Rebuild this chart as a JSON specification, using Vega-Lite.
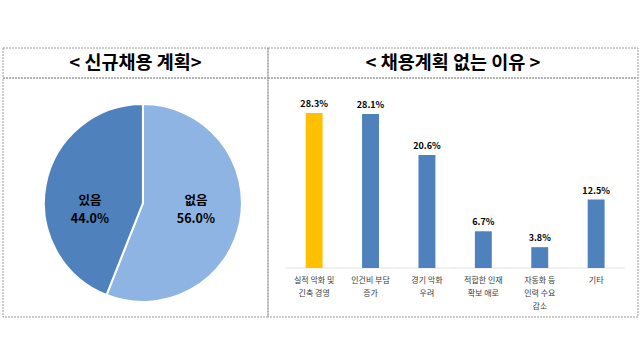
{
  "$schema": "https://vega.github.io/schema/vega-lite/v6.json",
  "padding": {"left": 2, "top": 47, "right": 3, "bottom": 44},
  "autosize": {"type": "pad"},
  "background": "white",
  "spacing": 0,
  "columns": 2,
  "bounds": "flush",
  "config": {
    "view": {"stroke": null},
    "font": "Noto Sans CJK KR",
    "concat": {"spacing": 0}
  },
  "concat": [
    {
      "width": 265, "height": 30,
      "data": {"values": [{"t": "< 신규채용 계획>"}]},
      "layer": [
        {"mark": {"type": "rect", "fill": null, "stroke": "#9a9a9a", "strokeWidth": 1, "strokeDash": [2, 1]}, "encoding": {}},
        {"mark": {"type": "text", "fontSize": 18.5, "fontWeight": "bold", "color": "black"}, "encoding": {"text": {"field": "t"}}}
      ]
    },
    {
      "width": 370, "height": 30,
      "data": {"values": [{"t": "< 채용계획 없는 이유 >"}]},
      "layer": [
        {"mark": {"type": "rect", "fill": null, "stroke": "#9a9a9a", "strokeWidth": 1, "strokeDash": [2, 1]}, "encoding": {}},
        {"mark": {"type": "text", "fontSize": 18.5, "fontWeight": "bold", "color": "black"}, "encoding": {"text": {"field": "t"}}}
      ]
    },
    {
      "width": 265, "height": 239,
      "data": {"values": [
        {"name": "없음", "value": 56.0, "o": 1},
        {"name": "있음", "value": 44.0, "o": 2}
      ]},
      "transform": [{"calculate": "datum.name + '\\n' + format(datum.value, '.1f') + '%'", "as": "lab"}],
      "layer": [
        {"data": {"values": [{"f": 1}]}, "mark": {"type": "rect", "fill": null, "stroke": "#9a9a9a", "strokeWidth": 1, "strokeDash": [2, 1]}, "encoding": {}},
        {
          "mark": {"type": "arc", "outerRadius": 99, "stroke": "white", "strokeWidth": 2},
          "encoding": {
            "x": {"datum": 0.528, "type": "quantitative", "scale": {"domain": [0, 1]}, "axis": null},
            "y": {"datum": 0.477, "type": "quantitative", "scale": {"domain": [0, 1]}, "axis": null},
            "theta": {"field": "value", "type": "quantitative", "stack": true},
            "order": {"field": "o", "type": "quantitative"},
            "color": {"field": "name", "type": "nominal", "scale": {"domain": ["없음", "있음"], "range": ["#8DB4E2", "#4F81BD"]}, "legend": null}
          }
        },
        {
          "mark": {"type": "text", "radius": 53, "thetaOffset": -0.19, "dy": -2, "fontSize": 12.5, "fontWeight": "bold", "lineBreak": "\n", "lineHeight": 18, "color": "black"},
          "encoding": {
            "x": {"datum": 0.528, "type": "quantitative", "axis": null},
            "y": {"datum": 0.477, "type": "quantitative", "axis": null},
            "theta": {"field": "value", "type": "quantitative", "stack": true},
            "order": {"field": "o", "type": "quantitative"},
            "text": {"field": "lab"}
          }
        }
      ]
    },
    {
      "width": 370, "height": 239,
      "data": {"values": [
        {"reason": "실적 악화 및|긴축 경영", "value": 28.3, "hl": "y"},
        {"reason": "인건비 부담|증가", "value": 28.1, "hl": "n"},
        {"reason": "경기 악화|우려", "value": 20.6, "hl": "n"},
        {"reason": "적합한 인재|확보 애로", "value": 6.7, "hl": "n"},
        {"reason": "자동화 등|인력 수요|감소", "value": 3.8, "hl": "n"},
        {"reason": "기타", "value": 12.5, "hl": "n"}
      ]},
      "transform": [{"calculate": "format(datum.value, '.1f') + '%'", "as": "lab"}],
      "encoding": {
        "x": {
          "field": "reason", "type": "nominal", "sort": null,
          "scale": {"paddingInner": 0.7, "paddingOuter": 0.63, "align": 0.53},
          "axis": {
            "title": null, "offset": -49, "domain": false, "ticks": false, "labelAngle": 0,
            "labelFontSize": 8, "labelColor": "#3a3a3a", "labelPadding": 8,
            "labelExpr": "split(datum.label, '|')", "labelLineHeight": 13,
            "labelBaseline": "top", "labelLimit": 0, "labelOverlap": false, "labelFlush": false
          }
        }
      },
      "layer": [
        {"data": {"values": [{"f": 1}]}, "mark": {"type": "rect", "fill": null, "stroke": "#9a9a9a", "strokeWidth": 1, "strokeDash": [2, 1]}, "encoding": {"x": null}},
        {
          "mark": {"type": "tick", "orient": "horizontal", "size": 57, "thickness": 1, "color": "#d9d9d9"},
          "encoding": {"y": {"datum": 0, "type": "quantitative", "axis": null, "scale": {"domain": [-8.94, 34.67], "nice": false, "zero": false}}}
        },
        {
          "mark": {"type": "bar"},
          "encoding": {
            "y": {"field": "value", "type": "quantitative", "axis": null},
            "y2": {"datum": 0},
            "color": {"condition": {"test": "datum.hl === 'y'", "value": "#FFC000"}, "value": "#4F81BD"}
          }
        },
        {
          "mark": {"type": "text", "fontSize": 9, "fontWeight": "bold", "baseline": "bottom", "dy": -4, "color": "black"},
          "encoding": {
            "y": {"field": "value", "type": "quantitative", "axis": null},
            "text": {"field": "lab"}
          }
        }
      ]
    }
  ]
}
